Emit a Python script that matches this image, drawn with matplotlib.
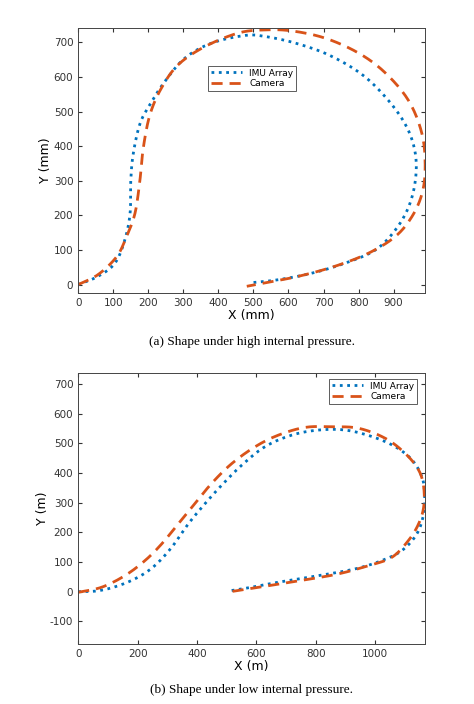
import numpy as np
import matplotlib
matplotlib.use("Agg")
import matplotlib.pyplot as plt
plt.rcParams['axes.unicode_minus'] = False

# Panel (a) high pressure (mm)
imu_a_x = [0, 57, 105, 133, 148, 150, 157, 176, 205, 248, 305, 381, 476, 533, 619, 714, 810, 886, 938, 962, 962, 943, 905, 848, 762, 667, 571, 490]
imu_a_y = [0, 24, 62, 129, 206, 301, 378, 464, 521, 588, 655, 698, 720, 717, 698, 664, 607, 531, 454, 378, 301, 225, 158, 100, 62, 33, 14, 5]
cam_a_x = [0, 57, 110, 138, 162, 176, 186, 205, 238, 286, 362, 457, 533, 610, 705, 800, 876, 943, 981, 990, 981, 952, 905, 829, 733, 629, 533, 481]
cam_a_y = [0, 29, 81, 139, 206, 301, 397, 492, 569, 636, 688, 727, 736, 733, 712, 669, 612, 531, 435, 339, 263, 196, 139, 91, 53, 24, 5, -5]
# Panel (b) low pressure (m)
imu_b_x = [0, 67, 135, 202, 258, 315, 371, 427, 483, 551, 629, 719, 809, 899, 989, 1067, 1124, 1157, 1166, 1163, 1140, 1090, 1022, 933, 809, 674, 584, 511]
imu_b_y = [0, 3, 20, 49, 88, 150, 229, 297, 359, 427, 489, 528, 545, 545, 523, 489, 444, 387, 331, 263, 195, 139, 105, 77, 54, 32, 15, 3]
cam_b_x = [0, 79, 157, 225, 281, 337, 393, 449, 517, 596, 674, 764, 854, 944, 1034, 1101, 1146, 1163, 1163, 1146, 1112, 1056, 978, 876, 764, 640, 551, 500]
cam_b_y = [-2, 15, 54, 105, 161, 229, 297, 365, 432, 489, 528, 554, 556, 551, 517, 466, 410, 353, 286, 229, 173, 116, 88, 60, 40, 20, 6, -2]

def smooth(x, y, n=12):
    p = np.column_stack([x, y]).astype(float)
    p = np.vstack([p[0], p, p[-1]])
    out = []
    for i in range(1, len(p) - 2):
        p0, p1, p2, p3 = p[i-1], p[i], p[i+1], p[i+2]
        for t in np.linspace(0, 1, n, endpoint=False):
            out.append(0.5*((2*p1) + (-p0+p2)*t + (2*p0-5*p1+4*p2-p3)*t**2 + (-p0+3*p1-3*p2+p3)*t**3))
    out.append(p[-2])
    out = np.array(out)
    return out[:, 0], out[:, 1]

blue = '#0072BD'
orange = '#D95319'
fig = plt.figure(figsize=(4.74, 7.04), dpi=100)

def panel(rect, ix, iy, cx, cy, xlim, ylim, xt, yt, xl, yl, legbox, cap, capy):
    ax = fig.add_axes(rect)
    ax.plot(*smooth(ix, iy), ':', color=blue, lw=2, label='IMU Array')
    ax.plot(*smooth(cx, cy), '--', color=orange, lw=2, dashes=(4, 2.5), label='Camera')
    ax.set_xlim(*xlim); ax.set_ylim(*ylim)
    ax.set_xticks(xt); ax.set_yticks(yt)
    ax.tick_params(labelsize=7.5, colors='#333333', direction='in', length=3, top=True, right=True)
    for s in ax.spines.values():
        s.set_color('#444444'); s.set_linewidth(0.7)
    ax.set_xlabel(xl, fontsize=9, labelpad=1)
    ax.set_ylabel(yl, fontsize=9, labelpad=1)
    leg = ax.legend(loc='center', bbox_to_anchor=legbox, bbox_transform=fig.transFigure,
                    fontsize=6.5, fancybox=False, edgecolor='#333333', handlelength=3.5,
                    borderpad=0.3, labelspacing=0.2, borderaxespad=0)
    leg.get_frame().set_linewidth(0.7)
    fig.text(rect[0] + rect[2] / 2, capy, cap, ha='center', va='center', family='Liberation Serif', fontsize=9.5)
    return ax

panel([0.165, 0.584, 0.732, 0.376], imu_a_x, imu_a_y, cam_a_x, cam_a_y, (0, 990), (-24, 741),
      range(0, 1000, 100), range(0, 800, 100), 'X (mm)', 'Y (mm)', (252/474, 1 - 78.5/704),
      '(a) Shape under high internal pressure.', 1 - 342/704)
panel([0.165, 0.085, 0.732, 0.385], imu_b_x, imu_b_y, cam_b_x, cam_b_y, (0, 1168), (-177, 737),
      range(0, 1200, 200), range(-100, 800, 100), 'X (m)', 'Y (m)', (373/474, 1 - 391.5/704),
      '(b) Shape under low internal pressure.', 1 - 690/704)
fig.savefig('out.png', dpi=100)
